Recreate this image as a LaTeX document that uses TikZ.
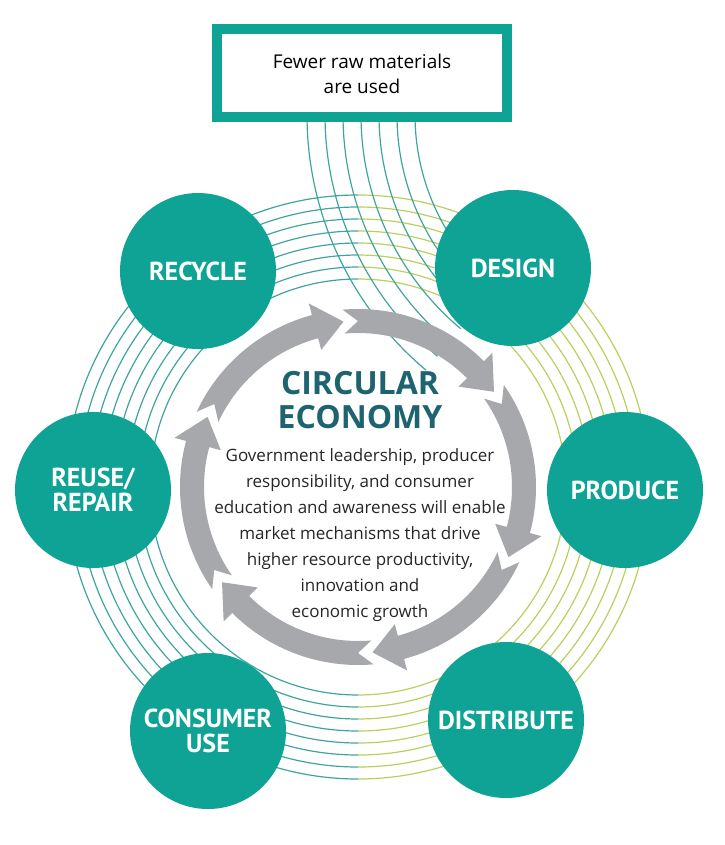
\documentclass[tikz,border=0pt]{standalone}
\usepackage{fontspec}
\setmainfont{Open Sans}
\newfontfamily\headfont{PT Sans}[BoldFont={* Bold}]
\definecolor{teal}{HTML}{0FA396}
\definecolor{dteal}{HTML}{1E6470}
\definecolor{lgreen}{HTML}{B9CF5E}
\definecolor{lteal}{HTML}{3FA59C}
\definecolor{agray}{HTML}{A6A8AB}
\begin{document}
\begin{tikzpicture}[x=1pt,y=-1pt,
  stage/.style={circle,fill=teal,minimum size=156pt,inner sep=0pt,text=white,font=\headfont\bfseries\fontsize{26}{27}\selectfont,align=center},
  ring/.style={line width=1.2pt}]
\useasboundingbox (0,0) rectangle (724,845);
\coordinate (c) at (358,487);
% concentric rings
\foreach \r in {208,220,232,244,256,268,280,292}{
  \draw[ring,lteal] ([shift={(90:\r)}]c) arc[start angle=90,end angle=270,radius=\r];
  \draw[ring,lgreen] ([shift={(90:\r)}]c) arc[start angle=90,end angle=-90,radius=\r];
}
% arcs from the box
\coordinate (bc) at (640,115);
\foreach \r in {225,243,261,279,297,315,333}{
  \draw[ring,lteal] ([shift={(180:\r)}]bc) arc[start angle=180,end angle=130,radius=\r];
}
% top box
\node[draw=teal,line width=10pt,fill=white,minimum width=290pt,minimum height=88pt,align=center,font=\fontsize{19}{25}\selectfont] (box) at (362,73.5) {Fewer raw materials\\are used};
% stages
\node[stage] (recycle) at (198,271) {RECYCLE};
\node[stage] (design) at (513,268) {DESIGN};
\node[stage] (produce) at (625,490) {PRODUCE};
\node[stage] (distribute) at (506,720) {DISTRIBUTE};
\node[stage] (consumer) at (208,731) {CONSUMER\\[-2pt]USE};
\node[stage] (reuse) at (93,490) {REUSE/\\[-2pt]REPAIR};
% grey arrows
\foreach \s in {-95,-35,25,85,145,205}{
  \pgfmathsetmacro\e{\s+50}
  \pgfmathsetmacro\t{\s+60}
  \pgfmathsetmacro\n{\s+5}
  \fill[agray] ([shift={(\s:178)}]c) arc[start angle=\s,end angle=\e,radius=178]
    -- ([shift={(\e:190)}]c) -- ([shift={(\t:166)}]c) -- ([shift={(\e:142)}]c)
    -- ([shift={(\e:154)}]c) arc[start angle=\e,end angle=\s,radius=154]
    -- ([shift={(\n:166)}]c) -- cycle;
}
\node[font=\fontsize{32}{34}\selectfont\bfseries,text=dteal,align=center] (title) at (360,400) {CIRCULAR\\ECONOMY};
\node[font=\fontsize{17}{26}\selectfont,text=black!85,align=center] (body) at (360,535) {Government leadership, producer\\responsibility, and consumer\\education and awareness will enable\\market mechanisms that drive\\higher resource productivity,\\innovation and\\economic growth};
\end{tikzpicture}
\end{document}
